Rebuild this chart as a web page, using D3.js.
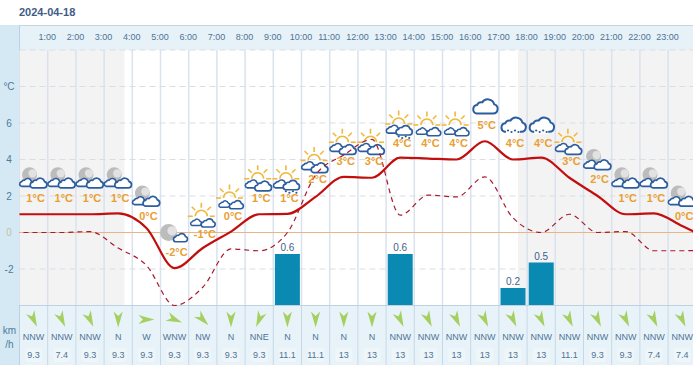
<!DOCTYPE html>
<html><head><meta charset="utf-8">
<script src="https://cdn.jsdelivr.net/npm/d3@7/dist/d3.min.js"></script>
<style>html,body{margin:0;padding:0;background:#fff;overflow:hidden}svg{display:block;font-family:"Liberation Sans",Arial,sans-serif}</style>
</head><body><svg id="c" width="693" height="365"></svg>
<script>
const dateLabel = "2024-04-18";
const hourLabels = ["1:00","2:00","3:00","4:00","5:00","6:00","7:00","8:00","9:00","10:00","11:00","12:00","13:00","14:00","15:00","16:00","17:00","18:00","19:00","20:00","21:00","22:00","23:00"];
const yTicks = [6,4,2,0,-2];
const gridLevels = [10,8,6,4,2,-2];
const tempLabels = [1,1,1,1,0,-2,-1,0,1,1,2,3,3,4,4,4,5,4,4,3,2,1,1,0];
// hourly curve values; first and last entries run off the plot edges
const tempCurve = [1,1,1,1,1.05,0.25,-1.95,-0.85,0.05,1,1.02,1.95,3.05,3,4.1,4.05,4,5,4,4.1,3,2,1,1.05,0.35,-0.4];
const feelCurve = [0,0,0,0.05,-0.85,-1.8,-4,-3,-0.9,-1,0,3.15,4.25,5.1,0.95,2.05,1.95,3.05,0.8,0,1,0,0.05,-1,-1,-0.95];
const icons = ["moon","moon","moon","moon","moon","moonBig","sun","sun","sunLg","sunRain","sunLg","sunLg","sunLg","sunRain","sun","sun","cloud","rain","rain","sunLg","moon","moon","moon","moon"];
const rainHours = [9,13,17,18];
const rainValues = [0.6,0.6,0.2,0.5];
const windDirs = ["NNW","NNW","NNW","N","W","WNW","NW","N","NNE","N","N","N","N","NNW","NNW","NNW","NNW","NNW","NNW","NNW","NNW","NNW","NNW","NNW"];
const windSpeeds = ["9.3","7.4","9.3","9.3","9.3","9.3","9.3","9.3","9.3","11.1","11.1","13","13","13","13","13","13","13","13","11.1","9.3","9.3","7.4","7.4"];
const dirAngle = {N:0,NNW:-25,NW:-45,WNW:-67.5,W:-90,NNE:22.5};
const nightBands = [[0,3.72],[17.68,24.2]];

const svg = d3.select("#c");
const x = d3.scaleLinear().domain([0,24]).range([19.5,696.3]);
const y = d3.scaleLinear().domain([-2,6]).range([269,123]);
const rainY = d3.scaleLinear().domain([0,0.6]).range([305,254]);
const plotTop = 50, base = 305, right = 693, left = 19.5;

// backgrounds
svg.append("rect").attr("x",0).attr("y",25).attr("width",left).attr("height",340).attr("fill","#d4e9f3");
svg.append("rect").attr("x",left).attr("y",25).attr("width",right-left).attr("height",25).attr("fill","#e7f2f8");
svg.append("rect").attr("x",left).attr("y",base).attr("width",right-left).attr("height",60).attr("fill","#e8f3f9");
svg.append("line").attr("x1",left).attr("x2",right).attr("y1",25.5).attr("y2",25.5).attr("stroke","#c3d6e4");
svg.append("line").attr("x1",left).attr("x2",left).attr("y1",25).attr("y2",365).attr("stroke","#bdd1e0");
svg.selectAll(".night").data(nightBands).join("rect").attr("x",d=>x(d[0])).attr("y",plotTop)
  .attr("width",d=>Math.min(x(d[1]),right)-x(d[0])).attr("height",base-plotTop).attr("fill","#f3f3f4");

// grid
svg.selectAll(".vg").data(hourLabels).join("line").attr("x1",(d,i)=>x(i+1)).attr("x2",(d,i)=>x(i+1))
  .attr("y1",plotTop).attr("y2",base).attr("stroke","#d9e2ee").attr("stroke-width",1.5);
svg.selectAll(".vw").data(hourLabels).join("line").attr("x1",(d,i)=>x(i+1)).attr("x2",(d,i)=>x(i+1))
  .attr("y1",base).attr("y2",365).attr("stroke","#c6d8e6").attr("stroke-width",1);
svg.selectAll(".hg").data(gridLevels).join("line").attr("x1",left).attr("x2",right)
  .attr("y1",d=>y(d)).attr("y2",d=>y(d)).attr("stroke","#d9dde4").attr("stroke-dasharray","6,4");
svg.append("line").attr("x1",left).attr("x2",right).attr("y1",y(0)).attr("y2",y(0)).attr("stroke","#e9b48a").attr("stroke-width",1);
svg.append("line").attr("x1",left).attr("x2",right).attr("y1",base+.5).attr("y2",base+.5).attr("stroke","#bdd1e0").attr("stroke-width",1);

// texts: title, hours, axis
svg.append("text").attr("x",19).attr("y",16).attr("font-size",11).attr("font-weight","bold").attr("fill","#3f5c86").text(dateLabel);
svg.selectAll(".hr").data(hourLabels).join("text").attr("x",(d,i)=>x(i+1)-.5).attr("y",40).attr("text-anchor","middle")
  .attr("font-size",9).attr("fill","#4f7396").text(d=>d);
svg.selectAll(".yt").data(yTicks).join("text").attr("x",9).attr("y",d=>y(d)+3.5).attr("text-anchor","middle")
  .attr("font-size",10).attr("fill",d=>d===0?"#c9bdaa":"#4f7a9c").text(d=>d);
svg.append("text").attr("x",9).attr("y",y(8)+3.5).attr("text-anchor","middle").attr("font-size",10).attr("fill","#4f7a9c").text("°C");
svg.append("text").attr("x",9.5).attr("y",334).attr("text-anchor","middle").attr("font-size",10).attr("fill","#4f7a9c").text("km");
svg.append("text").attr("x",9.5).attr("y",348).attr("text-anchor","middle").attr("font-size",10).attr("fill","#4f7a9c").text("/h");

// bars
svg.selectAll(".bar").data(rainValues).join("rect").attr("x",(d,i)=>x(rainHours[i]+.5)-12.5).attr("width",25)
  .attr("y",d=>rainY(d)).attr("height",d=>base-rainY(d)).attr("fill","#0a8ab3");
svg.selectAll(".bl").data(rainValues).join("text").attr("x",(d,i)=>x(rainHours[i]+.5)).attr("y",d=>rainY(d)-3)
  .attr("text-anchor","middle").attr("font-size",10).attr("fill","#3f5f87").text(d=>d);

// icons
const BLUE="#2c5d9f", SUN="#f0b93a", MOON="#bcbcbc";
const cloudPath="M7,22 H29 A6.2,6.2 0 0 0 30.5,9.8 A8.8,8.8 0 0 0 14.5,7.2 A6,6 0 0 0 7.6,10.8 A5.7,5.7 0 0 0 7,22 Z";
function cloud(g,cx,cy,w,sw){
  const k=w/36;
  g.append("path").attr("d",cloudPath).attr("transform",`translate(${cx-18*k},${cy-11*k}) scale(${k})`)
   .attr("fill","#fff").attr("stroke",BLUE).attr("stroke-width",sw/k).attr("stroke-linejoin","round");
}
function sun(g,cx,cy,r){
  const a=d3.arc().innerRadius(r).outerRadius(r).startAngle(-Math.PI/2).endAngle(Math.PI/2)();
  g.append("path").attr("d",a).attr("transform",`translate(${cx},${cy})`).attr("fill","#fff").attr("stroke",SUN).attr("stroke-width",1.7);
  [-90,-45,0,45,90].forEach(t=>{
    const s=Math.sin(t*Math.PI/180),c=Math.cos(t*Math.PI/180);
    g.append("line").attr("x1",cx+s*(r+2.5)).attr("y1",cy-c*(r+2.5)).attr("x2",cx+s*(r+7.5)).attr("y2",cy-c*(r+7.5))
     .attr("stroke",SUN).attr("stroke-width",1.6);
  });
}
function rainDots(g,cx,cy){
  [-5,-1.5,2,5.5].forEach((d,i)=>g.append("circle").attr("cx",cx+d).attr("cy",cy+(i%2?1.5:0)).attr("r",1.1).attr("fill",BLUE));
}
function moon(g,cx,cy,r){
  g.append("circle").attr("cx",cx).attr("cy",cy).attr("r",r).attr("fill",MOON);
  g.append("circle").attr("cx",cx+r*.4).attr("cy",cy-r*.2).attr("r",r*.55).attr("fill","#e2e2e2");
}
const icon = {
  moon(g,c,l){ moon(g,c-4,l-23,7.5); cloud(g,c-7.5,l-16,15,1.6); cloud(g,c+4.5,l-15.5,18.5,1.7); },
  moonBig(g,c,l){ moon(g,c-6,l-20,8.5); cloud(g,c+5.5,l-15.5,15.5,1.6); },
  sun(g,c,l){ sun(g,c-1.5,l-18,6); cloud(g,c-7,l-12.5,12,1.5); cloud(g,c+5,l-12,15.5,1.6); },
  sunLg(g,c,l){ sun(g,c-1.5,l-19,6); cloud(g,c-7.5,l-14.5,15,1.6); cloud(g,c+3.5,l-12.5,18.5,1.7); },
  sunRain(g,c,l){ sun(g,c-1.5,l-19,6); cloud(g,c-7.5,l-14.5,15,1.6); cloud(g,c+3.5,l-13.5,18,1.7); rainDots(g,c+3.5,l-6.5); },
  cloud(g,c,l){ cloud(g,c,l-19.5,27,2); },
  rain(g,c,l){ cloud(g,c,l-19.5,27,2); g.append("rect").attr("x",c-7).attr("y",l-13).attr("width",14).attr("height",4).attr("fill","#fff"); rainDots(g,c,l-12.5); }
};
const iconLayer = svg.append("g");
icons.forEach((t,i)=>{ icon[t](iconLayer,x(i+.5),y(tempLabels[i])-16.5); });

// lines
svg.append("clipPath").attr("id","plot").append("rect").attr("x",left).attr("y",plotTop).attr("width",right-left).attr("height",base-plotTop+1);
const line = d3.line().x((d,i)=>x(i-.5)).y(d=>y(d)).curve(d3.curveMonotoneX);
svg.append("path").datum(feelCurve).attr("d",line).attr("clip-path","url(#plot)").attr("fill","none")
  .attr("stroke","#a81a2e").attr("stroke-width",1.2).attr("stroke-dasharray","5,4");
svg.append("path").datum(tempCurve).attr("d",line).attr("clip-path","url(#plot)").attr("fill","none")
  .attr("stroke","#c20e0e").attr("stroke-width",2.2);

// temp labels
svg.selectAll(".tl").data(tempLabels).join("text").attr("x",(d,i)=>x(i+.5)+2).attr("y",d=>y(d)-12.7).attr("text-anchor","middle")
  .attr("font-size",11).attr("font-weight","bold").attr("fill","#e9a033").text(d=>d+"°C");

// wind
const arrow="M-4.6,-8 L0,-3.5 L4.6,-8 L0,8 Z";
svg.selectAll(".wa").data(windDirs).join("path").attr("d",arrow)
  .attr("transform",(d,i)=>`translate(${x(i+.5)},319.5) rotate(${dirAngle[d]})`).attr("fill","#a6cf62");
svg.selectAll(".wd").data(windDirs).join("text").attr("x",(d,i)=>x(i+.5)).attr("y",340).attr("text-anchor","middle")
  .attr("font-size",9).attr("fill","#4f7396").text(d=>d);
svg.selectAll(".wb").data(windSpeeds).join("rect").attr("x",(d,i)=>x(i+.5)-8.5).attr("y",348).attr("width",17).attr("height",14).attr("rx",3).attr("fill","#eef6fa");
svg.selectAll(".ws").data(windSpeeds).join("text").attr("x",(d,i)=>x(i+.5)).attr("y",358).attr("text-anchor","middle")
  .attr("font-size",9).attr("fill","#4f7396").text(d=>d);
</script></body></html>
